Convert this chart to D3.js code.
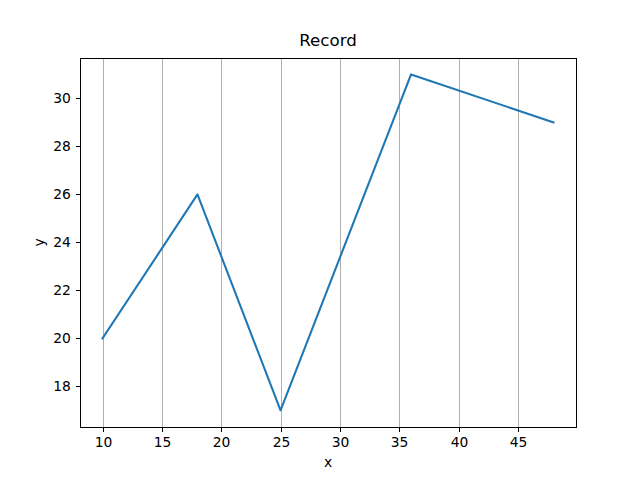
<!DOCTYPE html>
<html>
<head>
<meta charset="utf-8">
<script src="https://cdn.jsdelivr.net/npm/d3@7"></script>
<style>
body{margin:0;background:#fff;}
svg{display:block;font-family:"DejaVu Sans",sans-serif;}
</style>
</head>
<body>
<svg id="chart" width="640" height="480"></svg>
<script>
const xValues = [10, 18, 25, 36, 48];
const yValues = [20, 26, 17, 31, 29];
const xTicks = [10, 15, 20, 25, 30, 35, 40, 45];
const yTicks = [18, 20, 22, 24, 26, 28, 30];
const titleText = "Record";
const xLabel = "x";
const yLabel = "y";

(function () {
const W = 640, H = 480;
const pL = 80, pR = 576, pT = 57.6, pB = 427.2;
const snap = v => Math.round(v) + 0.5;
const svg = d3.select("#chart");
svg.append("rect").attr("width", W).attr("height", H).attr("fill", "#fff");

const xMin = d3.min(xValues), xMax = d3.max(xValues);
const yMin = d3.min(yValues), yMax = d3.max(yValues);
const xm = (xMax - xMin) * 0.05, ym = (yMax - yMin) * 0.05;
const x = d3.scaleLinear().domain([xMin - xm, xMax + xm]).range([pL, pR]);
const y = d3.scaleLinear().domain([yMin - ym, yMax + ym]).range([pB, pT]);

const fs = 13.89;
const tickLen = 4.86, pad = 4.86;

// vertical grid
svg.append("g").attr("shape-rendering", "crispEdges").selectAll("line").data(xTicks).join("line")
  .attr("x1", d => snap(x(d))).attr("x2", d => snap(x(d)))
  .attr("y1", snap(pT)).attr("y2", snap(pB))
  .attr("stroke", "#b0b0b0").attr("stroke-width", 1);

// line
const line = d3.line().x((d, i) => x(xValues[i])).y(d => y(d));
svg.append("path").datum(yValues).attr("d", line)
  .attr("fill", "none").attr("stroke", "#1f77b4").attr("stroke-width", 2.08)
  .attr("stroke-linejoin", "round").attr("stroke-linecap", "square");

// frame
svg.append("rect").attr("x", snap(pL)).attr("y", snap(pT))
  .attr("width", snap(pR) - snap(pL)).attr("height", snap(pB) - snap(pT))
  .attr("fill", "none").attr("stroke", "#000").attr("stroke-width", 1)
  .attr("shape-rendering", "crispEdges");

// x axis
const xAxis = d3.axisBottom(x).tickValues(xTicks).tickSize(tickLen).tickPadding(pad).tickFormat(d3.format("d")).offset(0);
const gx = svg.append("g").attr("transform", `translate(0,${snap(pB)})`).call(xAxis);
gx.select(".domain").remove();
gx.selectAll(".tick").attr("transform", d => `translate(${snap(x(d))},0)`);
gx.selectAll("line").attr("stroke", "#000").attr("stroke-width", 1).attr("shape-rendering", "crispEdges");
gx.selectAll("text").attr("font-size", fs).attr("fill", "#000").attr("font-family", "DejaVu Sans");

const yAxis = d3.axisLeft(y).tickValues(yTicks).tickSize(tickLen).tickPadding(pad).tickFormat(d3.format("d")).offset(0);
const gy = svg.append("g").attr("transform", `translate(${snap(pL)},0)`).call(yAxis);
gy.select(".domain").remove();
gy.selectAll(".tick").attr("transform", d => `translate(0,${snap(y(d))})`);
gy.selectAll("line").attr("stroke", "#000").attr("stroke-width", 1).attr("shape-rendering", "crispEdges");
gy.selectAll("text").attr("font-size", fs).attr("fill", "#000").attr("font-family", "DejaVu Sans");

// title
svg.append("text").attr("x", (pL + pR) / 2).attr("y", pT - 8.33 - 3.5)
  .attr("text-anchor", "middle").attr("font-size", 16.67).attr("fill", "#000").text(titleText);

svg.append("text").attr("x", (pL + pR) / 2).attr("y", 467)
  .attr("text-anchor", "middle").attr("font-size", fs).attr("fill", "#000").text(xLabel);

svg.append("text").attr("transform", `translate(44,${(pT + pB) / 2}) rotate(-90)`)
  .attr("text-anchor", "middle").attr("font-size", fs).attr("fill", "#000").text(yLabel);
})();
</script>
</body>
</html>
